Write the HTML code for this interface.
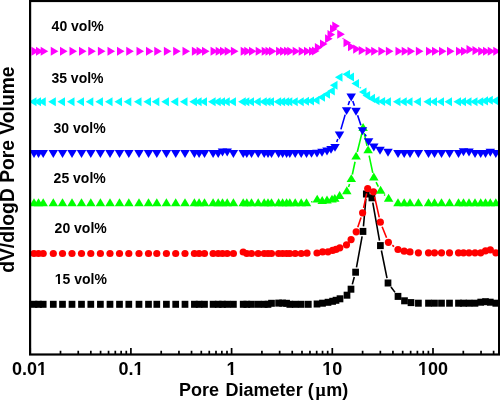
<!DOCTYPE html>
<html><head><meta charset="utf-8"><style>
html,body{margin:0;padding:0;background:#fff;}
body{width:500px;height:400px;overflow:hidden;}
svg{display:block;}
text{font-family:"Liberation Sans",Arial,sans-serif;font-weight:bold;fill:#000;}
</style></head><body>
<svg width="500" height="400" viewBox="0 0 500 400">
<rect width="500" height="400" fill="#fff"/>
<path d="M352.31 284.37L354.29 277.03M356.49 267.28L362.11 236.32M363.44 226.42L365.86 198.98M372.78 202.72L379.52 240.68M381.40 250.50L387.00 278.10M390.99 287.01L395.01 292.39" fill="none" stroke="#000000" stroke-width="1.6"/>
<g fill="#000000"><rect x="30.65" y="300.80" width="6.7" height="7" /><rect x="35.15" y="300.80" width="6.7" height="7" /><rect x="39.85" y="300.80" width="6.7" height="7" /><rect x="49.95" y="300.80" width="6.7" height="7" /><rect x="59.15" y="300.80" width="6.7" height="7" /><rect x="68.65" y="300.80" width="6.7" height="7" /><rect x="78.15" y="300.80" width="6.7" height="7" /><rect x="87.45" y="300.80" width="6.7" height="7" /><rect x="97.05" y="300.80" width="6.7" height="7" /><rect x="106.65" y="300.80" width="6.7" height="7" /><rect x="116.15" y="300.80" width="6.7" height="7" /><rect x="125.45" y="300.80" width="6.7" height="7" /><rect x="135.65" y="300.80" width="6.7" height="7" /><rect x="145.15" y="300.80" width="6.7" height="7" /><rect x="153.45" y="300.80" width="6.7" height="7" /><rect x="163.05" y="300.80" width="6.7" height="7" /><rect x="172.35" y="300.80" width="6.7" height="7" /><rect x="181.65" y="300.80" width="6.7" height="7" /><rect x="191.05" y="300.80" width="6.7" height="7" /><rect x="195.75" y="300.80" width="6.7" height="7" /><rect x="201.15" y="300.80" width="6.7" height="7" /><rect x="209.75" y="300.80" width="6.7" height="7" /><rect x="214.85" y="300.80" width="6.7" height="7" /><rect x="219.15" y="300.80" width="6.7" height="7" /><rect x="223.85" y="300.80" width="6.7" height="7" /><rect x="230.05" y="300.80" width="6.7" height="7" /><rect x="239.85" y="300.80" width="6.7" height="7" /><rect x="243.45" y="300.80" width="6.7" height="7" /><rect x="248.15" y="300.80" width="6.7" height="7" /><rect x="254.85" y="300.80" width="6.7" height="7" /><rect x="260.85" y="300.80" width="6.7" height="7" /><rect x="264.65" y="300.80" width="6.7" height="7" /><rect x="268.15" y="299.80" width="6.7" height="7" /><rect x="275.25" y="299.60" width="6.7" height="7" /><rect x="279.25" y="299.60" width="6.7" height="7" /><rect x="283.25" y="299.80" width="6.7" height="7" /><rect x="286.45" y="300.80" width="6.7" height="7" /><rect x="291.85" y="300.80" width="6.7" height="7" /><rect x="297.85" y="300.80" width="6.7" height="7" /><rect x="304.95" y="300.80" width="6.7" height="7" /><rect x="313.65" y="300.50" width="6.7" height="7" /><rect x="319.15" y="299.70" width="6.7" height="7" /><rect x="324.65" y="298.80" width="6.7" height="7" /><rect x="329.25" y="297.80" width="6.7" height="7" /><rect x="332.65" y="296.80" width="6.7" height="7" /><rect x="336.65" y="295.30" width="6.7" height="7" /><rect x="343.65" y="291.70" width="6.7" height="7" /><rect x="347.65" y="285.70" width="6.7" height="7" /><rect x="352.25" y="268.70" width="6.7" height="7" /><rect x="359.65" y="227.90" width="6.7" height="7" /><rect x="362.95" y="190.50" width="6.7" height="7" /><rect x="368.55" y="194.30" width="6.7" height="7" /><rect x="377.05" y="242.10" width="6.7" height="7" /><rect x="384.65" y="279.50" width="6.7" height="7" /><rect x="394.65" y="292.90" width="6.7" height="7" /><rect x="401.15" y="297.30" width="6.7" height="7" /><rect x="407.65" y="299.10" width="6.7" height="7" /><rect x="415.05" y="299.70" width="6.7" height="7" /><rect x="425.15" y="299.70" width="6.7" height="7" /><rect x="431.15" y="299.70" width="6.7" height="7" /><rect x="438.15" y="299.70" width="6.7" height="7" /><rect x="446.15" y="299.70" width="6.7" height="7" /><rect x="455.15" y="299.70" width="6.7" height="7" /><rect x="460.15" y="299.70" width="6.7" height="7" /><rect x="465.65" y="299.70" width="6.7" height="7" /><rect x="471.65" y="299.70" width="6.7" height="7" /><rect x="477.35" y="298.70" width="6.7" height="7" /><rect x="482.15" y="298.20" width="6.7" height="7" /><rect x="486.95" y="298.70" width="6.7" height="7" /><rect x="492.45" y="299.70" width="6.7" height="7" /></g>
<path d="M357.76 227.16L361.04 217.44M363.61 208.01L366.69 193.39M374.57 196.58L379.23 217.42M382.13 226.74L386.57 237.76M392.32 245.24L394.08 246.56" fill="none" stroke="#ff0000" stroke-width="1.6"/>
<g fill="#ff0000"><circle cx="34.00" cy="253.50" r="3.6"/><circle cx="38.50" cy="253.50" r="3.6"/><circle cx="43.20" cy="253.50" r="3.6"/><circle cx="53.30" cy="253.50" r="3.6"/><circle cx="62.50" cy="253.50" r="3.6"/><circle cx="72.00" cy="253.50" r="3.6"/><circle cx="81.50" cy="253.50" r="3.6"/><circle cx="90.80" cy="253.50" r="3.6"/><circle cx="100.40" cy="253.50" r="3.6"/><circle cx="110.00" cy="253.50" r="3.6"/><circle cx="119.50" cy="253.50" r="3.6"/><circle cx="128.80" cy="253.50" r="3.6"/><circle cx="139.00" cy="253.50" r="3.6"/><circle cx="148.50" cy="253.50" r="3.6"/><circle cx="156.80" cy="253.50" r="3.6"/><circle cx="166.40" cy="253.50" r="3.6"/><circle cx="175.70" cy="253.50" r="3.6"/><circle cx="185.00" cy="253.50" r="3.6"/><circle cx="194.40" cy="253.50" r="3.6"/><circle cx="199.10" cy="253.50" r="3.6"/><circle cx="204.50" cy="253.50" r="3.6"/><circle cx="213.10" cy="253.50" r="3.6"/><circle cx="218.20" cy="253.50" r="3.6"/><circle cx="222.50" cy="253.50" r="3.6"/><circle cx="227.20" cy="253.50" r="3.6"/><circle cx="233.40" cy="253.50" r="3.6"/><circle cx="243.20" cy="252.00" r="3.6"/><circle cx="246.80" cy="253.50" r="3.6"/><circle cx="251.50" cy="253.50" r="3.6"/><circle cx="258.20" cy="253.50" r="3.6"/><circle cx="264.20" cy="253.50" r="3.6"/><circle cx="268.00" cy="253.50" r="3.6"/><circle cx="271.50" cy="253.50" r="3.6"/><circle cx="278.60" cy="253.50" r="3.6"/><circle cx="282.60" cy="253.50" r="3.6"/><circle cx="286.60" cy="253.50" r="3.6"/><circle cx="289.80" cy="253.50" r="3.6"/><circle cx="295.20" cy="253.50" r="3.6"/><circle cx="301.20" cy="253.50" r="3.6"/><circle cx="307.00" cy="253.20" r="3.6"/><circle cx="317.00" cy="253.00" r="3.6"/><circle cx="322.60" cy="251.90" r="3.6"/><circle cx="328.00" cy="251.80" r="3.6"/><circle cx="332.60" cy="250.40" r="3.6"/><circle cx="336.00" cy="249.40" r="3.6"/><circle cx="339.80" cy="247.80" r="3.6"/><circle cx="346.50" cy="244.80" r="3.6"/><circle cx="351.10" cy="239.60" r="3.6"/><circle cx="356.20" cy="231.80" r="3.6"/><circle cx="362.60" cy="212.80" r="3.6"/><circle cx="367.70" cy="188.60" r="3.6"/><circle cx="373.50" cy="191.80" r="3.6"/><circle cx="380.30" cy="222.20" r="3.6"/><circle cx="388.40" cy="242.30" r="3.6"/><circle cx="398.00" cy="249.50" r="3.6"/><circle cx="404.20" cy="251.20" r="3.6"/><circle cx="410.00" cy="251.90" r="3.6"/><circle cx="418.40" cy="252.80" r="3.6"/><circle cx="428.50" cy="252.80" r="3.6"/><circle cx="434.50" cy="252.80" r="3.6"/><circle cx="441.50" cy="252.80" r="3.6"/><circle cx="449.50" cy="252.80" r="3.6"/><circle cx="458.50" cy="252.80" r="3.6"/><circle cx="463.50" cy="252.80" r="3.6"/><circle cx="469.00" cy="252.80" r="3.6"/><circle cx="475.00" cy="252.80" r="3.6"/><circle cx="480.70" cy="252.80" r="3.6"/><circle cx="485.50" cy="250.80" r="3.6"/><circle cx="490.30" cy="249.80" r="3.6"/><circle cx="495.80" cy="252.80" r="3.6"/></g>
<path d="M311.24 201.91L312.46 201.49M348.53 186.91L349.57 184.09M352.34 174.51L355.06 161.79M357.29 152.04L361.91 133.16M364.19 133.18L367.01 145.82M369.13 155.59L372.77 172.91M376.09 182.24L378.31 186.56M384.14 194.54L385.06 195.46" fill="none" stroke="#00ff00" stroke-width="1.6"/>
<g fill="#00ff00"><polygon points="34.00,198.23 38.75,206.13 29.25,206.13"/><polygon points="38.50,198.23 43.25,206.13 33.75,206.13"/><polygon points="43.20,198.23 47.95,206.13 38.45,206.13"/><polygon points="53.30,198.23 58.05,206.13 48.55,206.13"/><polygon points="62.50,198.23 67.25,206.13 57.75,206.13"/><polygon points="72.00,198.23 76.75,206.13 67.25,206.13"/><polygon points="81.50,198.23 86.25,206.13 76.75,206.13"/><polygon points="90.80,198.23 95.55,206.13 86.05,206.13"/><polygon points="100.40,198.23 105.15,206.13 95.65,206.13"/><polygon points="110.00,198.23 114.75,206.13 105.25,206.13"/><polygon points="119.50,198.23 124.25,206.13 114.75,206.13"/><polygon points="128.80,198.23 133.55,206.13 124.05,206.13"/><polygon points="139.00,198.23 143.75,206.13 134.25,206.13"/><polygon points="148.50,198.23 153.25,206.13 143.75,206.13"/><polygon points="156.80,198.23 161.55,206.13 152.05,206.13"/><polygon points="166.40,198.23 171.15,206.13 161.65,206.13"/><polygon points="175.70,198.23 180.45,206.13 170.95,206.13"/><polygon points="185.00,198.23 189.75,206.13 180.25,206.13"/><polygon points="194.40,198.23 199.15,206.13 189.65,206.13"/><polygon points="199.10,198.23 203.85,206.13 194.35,206.13"/><polygon points="204.50,198.23 209.25,206.13 199.75,206.13"/><polygon points="213.10,198.23 217.85,206.13 208.35,206.13"/><polygon points="218.20,198.23 222.95,206.13 213.45,206.13"/><polygon points="222.50,198.23 227.25,206.13 217.75,206.13"/><polygon points="227.20,198.23 231.95,206.13 222.45,206.13"/><polygon points="233.40,198.23 238.15,206.13 228.65,206.13"/><polygon points="243.20,198.23 247.95,206.13 238.45,206.13"/><polygon points="246.80,198.23 251.55,206.13 242.05,206.13"/><polygon points="251.50,198.23 256.25,206.13 246.75,206.13"/><polygon points="258.20,198.23 262.95,206.13 253.45,206.13"/><polygon points="264.20,198.23 268.95,206.13 259.45,206.13"/><polygon points="268.00,198.23 272.75,206.13 263.25,206.13"/><polygon points="271.50,198.23 276.25,206.13 266.75,206.13"/><polygon points="278.60,198.23 283.35,206.13 273.85,206.13"/><polygon points="282.60,198.23 287.35,206.13 277.85,206.13"/><polygon points="286.60,198.23 291.35,206.13 281.85,206.13"/><polygon points="289.80,198.23 294.55,206.13 285.05,206.13"/><polygon points="295.20,198.23 299.95,206.13 290.45,206.13"/><polygon points="301.20,198.23 305.95,206.13 296.45,206.13"/><polygon points="306.50,198.23 311.25,206.13 301.75,206.13"/><polygon points="317.20,194.63 321.95,202.53 312.45,202.53"/><polygon points="322.20,196.03 326.95,203.93 317.45,203.93"/><polygon points="327.00,195.53 331.75,203.43 322.25,203.43"/><polygon points="332.00,194.63 336.75,202.53 327.25,202.53"/><polygon points="334.80,193.93 339.55,201.83 330.05,201.83"/><polygon points="339.60,191.03 344.35,198.93 334.85,198.93"/><polygon points="346.80,186.33 351.55,194.23 342.05,194.23"/><polygon points="351.30,174.13 356.05,182.03 346.55,182.03"/><polygon points="356.10,151.63 360.85,159.53 351.35,159.53"/><polygon points="363.10,123.03 367.85,130.93 358.35,130.93"/><polygon points="368.10,145.43 372.85,153.33 363.35,153.33"/><polygon points="373.80,172.53 378.55,180.43 369.05,180.43"/><polygon points="380.60,185.73 385.35,193.63 375.85,193.63"/><polygon points="388.60,193.73 393.35,201.63 383.85,201.63"/><polygon points="398.00,198.23 402.75,206.13 393.25,206.13"/><polygon points="404.20,198.23 408.95,206.13 399.45,206.13"/><polygon points="410.00,198.23 414.75,206.13 405.25,206.13"/><polygon points="418.40,198.23 423.15,206.13 413.65,206.13"/><polygon points="428.50,198.23 433.25,206.13 423.75,206.13"/><polygon points="434.50,198.23 439.25,206.13 429.75,206.13"/><polygon points="441.50,198.23 446.25,206.13 436.75,206.13"/><polygon points="449.50,198.23 454.25,206.13 444.75,206.13"/><polygon points="458.50,198.23 463.25,206.13 453.75,206.13"/><polygon points="463.50,198.23 468.25,206.13 458.75,206.13"/><polygon points="469.00,198.23 473.75,206.13 464.25,206.13"/><polygon points="475.00,198.23 479.75,206.13 470.25,206.13"/><polygon points="480.70,198.23 485.45,206.13 475.95,206.13"/><polygon points="485.50,198.23 490.25,206.13 480.75,206.13"/><polygon points="490.30,198.23 495.05,206.13 485.55,206.13"/><polygon points="495.80,198.23 500.55,206.13 491.05,206.13"/></g>
<path d="M336.71 141.90L337.79 138.90M340.90 129.40L345.20 114.60M348.20 105.06L349.60 100.94M352.79 100.94L354.41 105.76M357.59 115.24L360.91 125.16M364.94 134.26L366.16 136.44" fill="none" stroke="#0000ff" stroke-width="1.6"/>
<g fill="#0000ff"><polygon points="34.00,157.97 38.75,150.07 29.25,150.07"/><polygon points="38.50,157.97 43.25,150.07 33.75,150.07"/><polygon points="43.20,157.97 47.95,150.07 38.45,150.07"/><polygon points="53.30,157.97 58.05,150.07 48.55,150.07"/><polygon points="62.50,157.97 67.25,150.07 57.75,150.07"/><polygon points="72.00,157.97 76.75,150.07 67.25,150.07"/><polygon points="81.50,157.97 86.25,150.07 76.75,150.07"/><polygon points="90.80,157.97 95.55,150.07 86.05,150.07"/><polygon points="100.40,157.97 105.15,150.07 95.65,150.07"/><polygon points="110.00,157.97 114.75,150.07 105.25,150.07"/><polygon points="119.50,157.97 124.25,150.07 114.75,150.07"/><polygon points="128.80,157.97 133.55,150.07 124.05,150.07"/><polygon points="139.00,157.97 143.75,150.07 134.25,150.07"/><polygon points="148.50,157.97 153.25,150.07 143.75,150.07"/><polygon points="156.80,157.97 161.55,150.07 152.05,150.07"/><polygon points="166.40,157.97 171.15,150.07 161.65,150.07"/><polygon points="175.70,157.97 180.45,150.07 170.95,150.07"/><polygon points="185.00,157.97 189.75,150.07 180.25,150.07"/><polygon points="194.40,157.97 199.15,150.07 189.65,150.07"/><polygon points="199.10,157.97 203.85,150.07 194.35,150.07"/><polygon points="204.50,157.97 209.25,150.07 199.75,150.07"/><polygon points="213.10,157.97 217.85,150.07 208.35,150.07"/><polygon points="218.20,157.97 222.95,150.07 213.45,150.07"/><polygon points="222.50,156.47 227.25,148.57 217.75,148.57"/><polygon points="227.20,156.47 231.95,148.57 222.45,148.57"/><polygon points="233.40,157.97 238.15,150.07 228.65,150.07"/><polygon points="243.20,157.97 247.95,150.07 238.45,150.07"/><polygon points="246.80,157.97 251.55,150.07 242.05,150.07"/><polygon points="251.50,157.97 256.25,150.07 246.75,150.07"/><polygon points="258.20,157.97 262.95,150.07 253.45,150.07"/><polygon points="264.20,157.97 268.95,150.07 259.45,150.07"/><polygon points="268.00,157.97 272.75,150.07 263.25,150.07"/><polygon points="271.50,157.97 276.25,150.07 266.75,150.07"/><polygon points="278.60,157.97 283.35,150.07 273.85,150.07"/><polygon points="282.60,157.97 287.35,150.07 277.85,150.07"/><polygon points="286.60,157.97 291.35,150.07 281.85,150.07"/><polygon points="289.80,157.97 294.55,150.07 285.05,150.07"/><polygon points="295.20,157.97 299.95,150.07 290.45,150.07"/><polygon points="301.20,157.97 305.95,150.07 296.45,150.07"/><polygon points="306.50,157.97 311.25,150.07 301.75,150.07"/><polygon points="311.50,157.87 316.25,149.97 306.75,149.97"/><polygon points="317.00,157.57 321.75,149.67 312.25,149.67"/><polygon points="322.00,156.77 326.75,148.87 317.25,148.87"/><polygon points="327.00,155.47 331.75,147.57 322.25,147.57"/><polygon points="331.00,153.87 335.75,145.97 326.25,145.97"/><polygon points="335.00,151.87 339.75,143.97 330.25,143.97"/><polygon points="339.50,139.47 344.25,131.57 334.75,131.57"/><polygon points="346.60,115.07 351.35,107.17 341.85,107.17"/><polygon points="351.20,101.47 355.95,93.57 346.45,93.57"/><polygon points="356.00,115.77 360.75,107.87 351.25,107.87"/><polygon points="362.50,135.17 367.25,127.27 357.75,127.27"/><polygon points="368.60,146.07 373.35,138.17 363.85,138.17"/><polygon points="373.80,151.47 378.55,143.57 369.05,143.57"/><polygon points="380.00,154.67 384.75,146.77 375.25,146.77"/><polygon points="388.00,156.67 392.75,148.77 383.25,148.77"/><polygon points="398.00,157.97 402.75,150.07 393.25,150.07"/><polygon points="404.20,157.97 408.95,150.07 399.45,150.07"/><polygon points="410.00,157.97 414.75,150.07 405.25,150.07"/><polygon points="418.40,157.97 423.15,150.07 413.65,150.07"/><polygon points="428.50,157.97 433.25,150.07 423.75,150.07"/><polygon points="434.50,157.97 439.25,150.07 429.75,150.07"/><polygon points="441.50,157.97 446.25,150.07 436.75,150.07"/><polygon points="449.50,157.97 454.25,150.07 444.75,150.07"/><polygon points="458.50,157.97 463.25,150.07 453.75,150.07"/><polygon points="463.50,156.17 468.25,148.27 458.75,148.27"/><polygon points="469.00,156.47 473.75,148.57 464.25,148.57"/><polygon points="475.00,157.97 479.75,150.07 470.25,150.07"/><polygon points="480.70,157.97 485.45,150.07 475.95,150.07"/><polygon points="485.50,157.97 490.25,150.07 480.75,150.07"/><polygon points="490.30,156.77 495.05,148.87 485.55,148.87"/><polygon points="495.80,157.97 500.55,150.07 491.05,150.07"/></g>
<path d="M359.81 87.25L360.69 88.25" fill="none" stroke="#00ffff" stroke-width="1.6"/>
<g fill="#00ffff"><polygon points="28.93,101.70 36.53,97.15 36.53,106.25"/><polygon points="33.43,101.70 41.03,97.15 41.03,106.25"/><polygon points="38.13,101.70 45.73,97.15 45.73,106.25"/><polygon points="48.23,101.70 55.83,97.15 55.83,106.25"/><polygon points="57.43,101.70 65.03,97.15 65.03,106.25"/><polygon points="66.93,101.70 74.53,97.15 74.53,106.25"/><polygon points="76.43,101.70 84.03,97.15 84.03,106.25"/><polygon points="85.73,101.70 93.33,97.15 93.33,106.25"/><polygon points="95.33,101.70 102.93,97.15 102.93,106.25"/><polygon points="104.93,101.70 112.53,97.15 112.53,106.25"/><polygon points="114.43,101.70 122.03,97.15 122.03,106.25"/><polygon points="123.73,101.70 131.33,97.15 131.33,106.25"/><polygon points="133.93,101.70 141.53,97.15 141.53,106.25"/><polygon points="143.43,101.70 151.03,97.15 151.03,106.25"/><polygon points="151.73,101.70 159.33,97.15 159.33,106.25"/><polygon points="161.33,101.70 168.93,97.15 168.93,106.25"/><polygon points="170.63,101.70 178.23,97.15 178.23,106.25"/><polygon points="179.93,101.70 187.53,97.15 187.53,106.25"/><polygon points="189.33,101.70 196.93,97.15 196.93,106.25"/><polygon points="194.03,101.70 201.63,97.15 201.63,106.25"/><polygon points="199.43,101.70 207.03,97.15 207.03,106.25"/><polygon points="208.03,101.70 215.63,97.15 215.63,106.25"/><polygon points="213.13,101.70 220.73,97.15 220.73,106.25"/><polygon points="217.43,101.70 225.03,97.15 225.03,106.25"/><polygon points="222.13,101.70 229.73,97.15 229.73,106.25"/><polygon points="228.33,101.70 235.93,97.15 235.93,106.25"/><polygon points="238.13,101.70 245.73,97.15 245.73,106.25"/><polygon points="241.73,101.70 249.33,97.15 249.33,106.25"/><polygon points="246.43,101.70 254.03,97.15 254.03,106.25"/><polygon points="253.13,101.70 260.73,97.15 260.73,106.25"/><polygon points="259.13,101.70 266.73,97.15 266.73,106.25"/><polygon points="262.93,101.70 270.53,97.15 270.53,106.25"/><polygon points="266.43,101.70 274.03,97.15 274.03,106.25"/><polygon points="273.53,101.70 281.13,97.15 281.13,106.25"/><polygon points="277.53,101.70 285.13,97.15 285.13,106.25"/><polygon points="281.53,101.70 289.13,97.15 289.13,106.25"/><polygon points="284.73,101.70 292.33,97.15 292.33,106.25"/><polygon points="290.13,101.70 297.73,97.15 297.73,106.25"/><polygon points="296.13,101.70 303.73,97.15 303.73,106.25"/><polygon points="301.43,101.20 309.03,96.65 309.03,105.75"/><polygon points="306.43,101.00 314.03,96.45 314.03,105.55"/><polygon points="311.93,100.20 319.53,95.65 319.53,104.75"/><polygon points="317.43,97.20 325.03,92.65 325.03,101.75"/><polygon points="322.43,94.20 330.03,89.65 330.03,98.75"/><polygon points="327.23,91.00 334.83,86.45 334.83,95.55"/><polygon points="329.93,85.20 337.53,80.65 337.53,89.75"/><polygon points="334.93,77.20 342.53,72.65 342.53,81.75"/><polygon points="342.43,74.30 350.03,69.75 350.03,78.85"/><polygon points="346.43,77.00 354.03,72.45 354.03,81.55"/><polygon points="351.43,83.50 359.03,78.95 359.03,88.05"/><polygon points="358.93,92.00 366.53,87.45 366.53,96.55"/><polygon points="362.53,95.60 370.13,91.05 370.13,100.15"/><polygon points="367.43,98.40 375.03,93.85 375.03,102.95"/><polygon points="371.93,100.60 379.53,96.05 379.53,105.15"/><polygon points="377.53,101.50 385.13,96.95 385.13,106.05"/><polygon points="383.33,101.70 390.93,97.15 390.93,106.25"/><polygon points="392.93,101.70 400.53,97.15 400.53,106.25"/><polygon points="399.13,101.70 406.73,97.15 406.73,106.25"/><polygon points="404.93,101.70 412.53,97.15 412.53,106.25"/><polygon points="413.33,101.70 420.93,97.15 420.93,106.25"/><polygon points="423.43,101.70 431.03,97.15 431.03,106.25"/><polygon points="429.43,101.70 437.03,97.15 437.03,106.25"/><polygon points="436.43,101.70 444.03,97.15 444.03,106.25"/><polygon points="444.43,101.70 452.03,97.15 452.03,106.25"/><polygon points="453.43,101.70 461.03,97.15 461.03,106.25"/><polygon points="458.43,101.70 466.03,97.15 466.03,106.25"/><polygon points="463.93,101.70 471.53,97.15 471.53,106.25"/><polygon points="469.93,101.70 477.53,97.15 477.53,106.25"/><polygon points="475.63,101.70 483.23,97.15 483.23,106.25"/><polygon points="480.43,100.90 488.03,96.35 488.03,105.45"/><polygon points="485.23,100.20 492.83,95.65 492.83,104.75"/><polygon points="490.73,100.70 498.33,96.15 498.33,105.25"/></g>
<path d="M342.72 38.26L343.08 38.74" fill="none" stroke="#ff00ff" stroke-width="1.6"/>
<g fill="#ff00ff"><polygon points="39.07,51.20 31.47,46.65 31.47,55.75"/><polygon points="43.57,51.20 35.97,46.65 35.97,55.75"/><polygon points="48.27,51.20 40.67,46.65 40.67,55.75"/><polygon points="58.37,51.20 50.77,46.65 50.77,55.75"/><polygon points="67.57,51.20 59.97,46.65 59.97,55.75"/><polygon points="77.07,51.20 69.47,46.65 69.47,55.75"/><polygon points="86.57,51.20 78.97,46.65 78.97,55.75"/><polygon points="95.87,51.20 88.27,46.65 88.27,55.75"/><polygon points="105.47,51.20 97.87,46.65 97.87,55.75"/><polygon points="115.07,51.20 107.47,46.65 107.47,55.75"/><polygon points="124.57,51.20 116.97,46.65 116.97,55.75"/><polygon points="133.87,51.20 126.27,46.65 126.27,55.75"/><polygon points="144.07,51.20 136.47,46.65 136.47,55.75"/><polygon points="153.57,51.20 145.97,46.65 145.97,55.75"/><polygon points="161.87,51.20 154.27,46.65 154.27,55.75"/><polygon points="171.47,51.20 163.87,46.65 163.87,55.75"/><polygon points="180.77,51.20 173.17,46.65 173.17,55.75"/><polygon points="190.07,51.20 182.47,46.65 182.47,55.75"/><polygon points="199.47,51.20 191.87,46.65 191.87,55.75"/><polygon points="204.17,51.20 196.57,46.65 196.57,55.75"/><polygon points="209.57,51.20 201.97,46.65 201.97,55.75"/><polygon points="218.17,51.20 210.57,46.65 210.57,55.75"/><polygon points="223.27,51.20 215.67,46.65 215.67,55.75"/><polygon points="227.57,51.20 219.97,46.65 219.97,55.75"/><polygon points="232.27,51.20 224.67,46.65 224.67,55.75"/><polygon points="238.47,51.20 230.87,46.65 230.87,55.75"/><polygon points="248.27,51.20 240.67,46.65 240.67,55.75"/><polygon points="251.87,51.20 244.27,46.65 244.27,55.75"/><polygon points="256.57,51.20 248.97,46.65 248.97,55.75"/><polygon points="263.27,51.20 255.67,46.65 255.67,55.75"/><polygon points="269.27,51.20 261.67,46.65 261.67,55.75"/><polygon points="273.07,51.20 265.47,46.65 265.47,55.75"/><polygon points="276.57,51.20 268.97,46.65 268.97,55.75"/><polygon points="283.67,51.20 276.07,46.65 276.07,55.75"/><polygon points="287.67,51.20 280.07,46.65 280.07,55.75"/><polygon points="291.67,51.20 284.07,46.65 284.07,55.75"/><polygon points="294.87,51.20 287.27,46.65 287.27,55.75"/><polygon points="300.27,51.20 292.67,46.65 292.67,55.75"/><polygon points="306.27,51.20 298.67,46.65 298.67,55.75"/><polygon points="311.57,51.20 303.97,46.65 303.97,55.75"/><polygon points="316.57,51.20 308.97,46.65 308.97,55.75"/><polygon points="319.57,51.00 311.97,46.45 311.97,55.55"/><polygon points="322.47,47.60 314.87,43.05 314.87,52.15"/><polygon points="327.57,44.00 319.97,39.45 319.97,48.55"/><polygon points="332.67,38.80 325.07,34.25 325.07,43.35"/><polygon points="335.07,34.60 327.47,30.05 327.47,39.15"/><polygon points="337.57,29.00 329.97,24.45 329.97,33.55"/><polygon points="339.87,26.00 332.27,21.45 332.27,30.55"/><polygon points="344.87,34.20 337.27,29.65 337.27,38.75"/><polygon points="351.07,42.80 343.47,38.25 343.47,47.35"/><polygon points="355.57,46.80 347.97,42.25 347.97,51.35"/><polygon points="360.77,49.10 353.17,44.55 353.17,53.65"/><polygon points="366.37,50.50 358.77,45.95 358.77,55.05"/><polygon points="373.17,51.10 365.57,46.55 365.57,55.65"/><polygon points="378.77,51.20 371.17,46.65 371.17,55.75"/><polygon points="385.97,51.20 378.37,46.65 378.37,55.75"/><polygon points="393.47,51.20 385.87,46.65 385.87,55.75"/><polygon points="403.07,51.20 395.47,46.65 395.47,55.75"/><polygon points="409.27,51.20 401.67,46.65 401.67,55.75"/><polygon points="415.07,51.20 407.47,46.65 407.47,55.75"/><polygon points="423.47,51.20 415.87,46.65 415.87,55.75"/><polygon points="433.57,51.20 425.97,46.65 425.97,55.75"/><polygon points="439.57,51.20 431.97,46.65 431.97,55.75"/><polygon points="446.57,51.20 438.97,46.65 438.97,55.75"/><polygon points="454.57,51.20 446.97,46.65 446.97,55.75"/><polygon points="463.57,51.20 455.97,46.65 455.97,55.75"/><polygon points="468.57,51.20 460.97,46.65 460.97,55.75"/><polygon points="474.07,49.60 466.47,45.05 466.47,54.15"/><polygon points="480.07,50.60 472.47,46.05 472.47,55.15"/><polygon points="485.77,51.20 478.17,46.65 478.17,55.75"/><polygon points="490.57,51.20 482.97,46.65 482.97,55.75"/><polygon points="495.37,51.20 487.77,46.65 487.77,55.75"/><polygon points="500.87,51.20 493.27,46.65 493.27,55.75"/></g>
<path d="M30.20 354.5V348M60.51 354.5V350.8M78.25 354.5V350.8M90.83 354.5V350.8M100.59 354.5V350.8M108.56 354.5V350.8M115.30 354.5V350.8M121.14 354.5V350.8M126.29 354.5V350.8M130.90 354.5V348M161.21 354.5V350.8M178.95 354.5V350.8M191.53 354.5V350.8M201.29 354.5V350.8M209.26 354.5V350.8M216.00 354.5V350.8M221.84 354.5V350.8M226.99 354.5V350.8M231.60 354.5V348M261.91 354.5V350.8M279.65 354.5V350.8M292.23 354.5V350.8M301.99 354.5V350.8M309.96 354.5V350.8M316.70 354.5V350.8M322.54 354.5V350.8M327.69 354.5V350.8M332.30 354.5V348M362.61 354.5V350.8M380.35 354.5V350.8M392.93 354.5V350.8M402.69 354.5V350.8M410.66 354.5V350.8M417.40 354.5V350.8M423.24 354.5V350.8M428.39 354.5V350.8M433.00 354.5V348M463.31 354.5V350.8M481.05 354.5V350.8M493.63 354.5V350.8" stroke="#000" stroke-width="1.7" fill="none"/>
<rect x="30.1" y="1" width="469" height="353.5" fill="none" stroke="#000" stroke-width="2.2"/>
<text x="51.6" y="31.3" font-size="14">40 vol%</text>
<text x="51.4" y="82.8" font-size="14">35 vol%</text>
<text x="53.5" y="132.5" font-size="14">30 vol%</text>
<text x="53.6" y="183.2" font-size="14">25 vol%</text>
<text x="54.6" y="233.2" font-size="14">20 vol%</text>
<text x="54.8" y="283.9" font-size="14">15 vol%</text>
<g font-size="18" text-anchor="middle">
<text x="29.5" y="375.1">0.01</text>
<text x="130.9" y="375.1">0.1</text>
<text x="231.6" y="375.1">1</text>
<text x="332.3" y="375.1">10</text>
<text x="433" y="375.1">100</text>
</g>
<g fill="#fff"><rect x="37.14" y="372.46" width="4.02" height="3.64"/><rect x="43.73" y="372.46" width="3.64" height="3.64"/><rect x="133.53" y="372.46" width="4.02" height="3.64"/><rect x="140.12" y="372.46" width="3.64" height="3.64"/><rect x="226.73" y="372.46" width="4.02" height="3.64"/><rect x="233.32" y="372.46" width="3.64" height="3.64"/><rect x="322.42" y="372.46" width="4.02" height="3.64"/><rect x="329.01" y="372.46" width="3.64" height="3.64"/><rect x="418.12" y="372.46" width="4.02" height="3.64"/><rect x="424.70" y="372.46" width="3.64" height="3.64"/><rect x="54.68" y="281.67" width="3.34" height="3.23"/><rect x="60.04" y="281.67" width="2.46" height="3.23"/></g>
<text y="396.1" font-size="18"><tspan x="179">Pore</tspan><tspan x="225.6">Diameter (</tspan><tspan x="315.6" font-family="Liberation Serif">μ</tspan><tspan x="326.3">m)</tspan></text>
<text transform="translate(14.2,169.6) rotate(-90)" font-size="19.3" text-anchor="middle">dV/dlogD Pore Volume</text>
</svg>
</body></html>
